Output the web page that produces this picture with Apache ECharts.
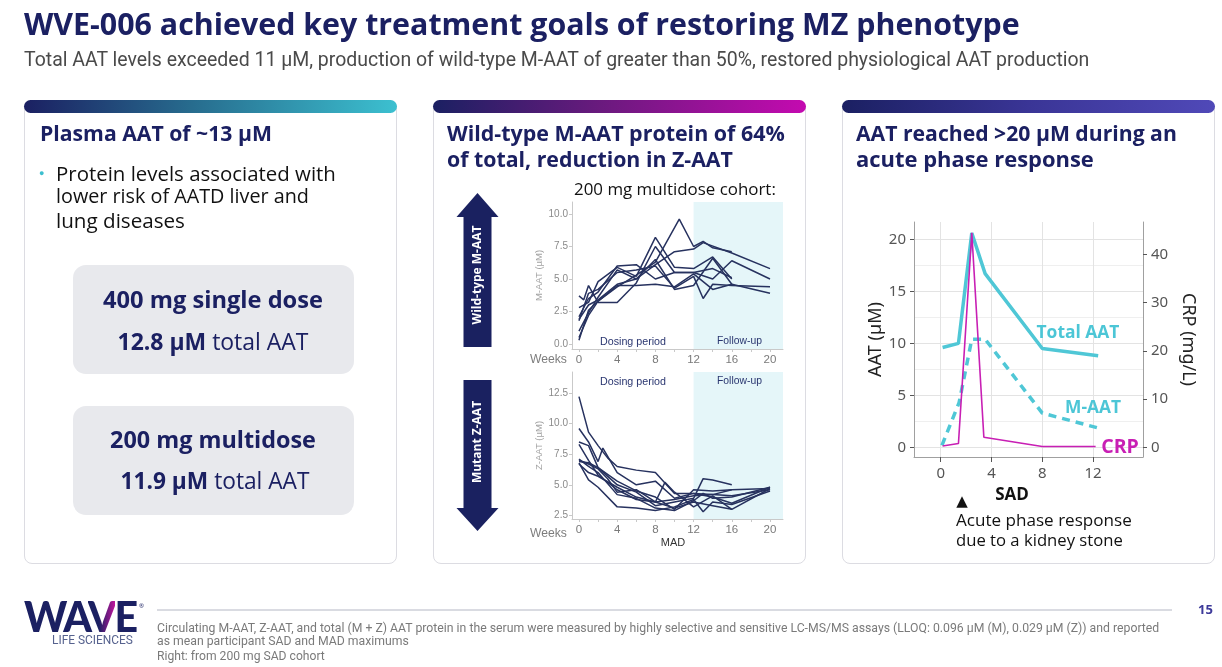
<!DOCTYPE html>
<html><head><meta charset="utf-8">
<script src="https://cdn.jsdelivr.net/npm/echarts@6/dist/echarts.min.js"></script>
<style>
html,body{margin:0;padding:0;background:#fff;width:1222px;height:667px;overflow:hidden;position:relative;font-family:'Open Sans',sans-serif;}
#chart{position:absolute;left:0;top:0;width:1222px;height:667px;z-index:1;}
.layer{position:absolute;left:0;top:0;width:1222px;height:667px;z-index:2;pointer-events:none;}
.t{position:absolute;white-space:nowrap;line-height:1;}
.panel{position:absolute;top:100px;width:373px;height:464px;border:1px solid #dcdce2;border-radius:8px;box-sizing:border-box;z-index:0;}
.bar{position:absolute;left:-1px;top:-1px;right:-1px;height:13px;border-radius:7px;}
.box{position:absolute;left:73px;width:281px;height:109px;background:#e8e9ed;border-radius:13px;z-index:0;}
</style></head><body>
<div class="panel" style="left:24px"><div class="bar" style="background:linear-gradient(90deg,#1b2062,#276c8e 45%,#3cc0d0)"></div></div>
<div class="panel" style="left:433px"><div class="bar" style="background:linear-gradient(90deg,#1b2062,#6a1a7e 45%,#c40ab0)"></div></div>
<div class="panel" style="left:842px"><div class="bar" style="background:linear-gradient(90deg,#1b2062,#3a3596 50%,#5049b8)"></div></div>
<div class="box" style="top:265px"></div>
<div class="box" style="top:406px"></div>
<svg style="position:absolute;left:0;top:0;z-index:0" width="1222" height="667">
  <polygon points="477.5,193 498.5,217 491.5,217 491.5,347 463.5,347 463.5,217 456.5,217" fill="#1a2160"/>
  <polygon points="463.5,380 491.5,380 491.5,508 498.5,508 477.5,531 456.5,508 463.5,508" fill="#1a2160"/>
  <line x1="157" y1="610" x2="1172" y2="610" stroke="#b4b7c4" stroke-width="1"/>
</svg>
<div id="chart"></div>
<div class="layer" id="txt"></div>
<script>
// ---------- DATA ----------
// Middle top: wild-type M-AAT (µM) per participant, [week, value]
const mWeekTicks = [0,2,4,6,8,10,12,14,16,18,20];
const mWeekLabels = [0,4,8,12,16,20];
const mAatTicks = [0,2.5,5,7.5,10];
const zAatTicks = [2.5,5,7.5,10,12.5];
const mS1 = [[0,0.5],[1,2.2],[2,3.3],[4,4.4],[6,5.3],[8,6.3],[10.5,9.6],[12,7.5],[13,7.9],[14,7.4],[16,7.1]];
const mS2 = [[0,1.9],[1,3.0],[2,3.4],[4,4.6],[6,5.0],[8,6.1],[10,7.1],[12,7.3],[13,7.8],[16,7.0],[20,5.8]];
const mS3 = [[0,2.8],[1,3.2],[2,4.8],[4,5.9],[6,5.2],[8,8.2],[10,5.9],[12,5.8],[14,6.7],[16,5.0]];
const mS4 = [[0,3.7],[0.5,3.4],[1,4.5],[2,3.2],[4,3.2],[6,4.7],[8,7.5],[10,5.5],[12,5.5],[14,5.8],[16,5.1]];
const mS5 = [[0,1.8],[1,3.9],[2,4.2],[4,5.5],[6,5.7],[8,6.0],[10,4.3],[12,5.2],[13,3.5],[14,4.6],[16,4.5],[20,4.4]];
const mS6 = [[0,0.3],[1,2.6],[2,3.3],[4,4.5],[6,4.5],[8,4.6],[10,4.4],[12,5.4],[14,4.2],[16,4.6],[20,3.9]];
const mS7 = [[0,2.1],[1,3.5],[2,4.0],[4,6.0],[6,6.1],[8,5.0],[10,5.5],[12,5.5],[14,5.0],[16,6.4],[20,5.0]];
const mS8 = [[0,1.0],[1,2.4],[2,3.6],[4,5.7],[6,5.0],[8,6.5],[10,4.2],[12,4.5],[14,6.6],[16,4.6]];
// Middle bottom: mutant Z-AAT (µM)
const zS1 = [[0,12.2],[1,9.3],[2,8.2],[3,7.2],[4,6.5],[6,6.2],[8,6.0],[10,4.3],[12,4.3],[14,4.2],[16,4.1],[20,4.6]];
const zS2 = [[0,9.6],[1,8.5],[2,6.9],[2.5,8.0],[4,6.0],[6,5.0],[8,5.3],[10,3.9],[12,4.3],[14,4.0],[16,3.5],[20,4.8]];
const zS3 = [[0,8.5],[1,8.2],[2,6.4],[4,5.0],[6,4.4],[8,3.3],[10,3.6],[12,3.9],[13,5.5],[14,5.4],[16,5.0]];
const zS4 = [[0,8.3],[1,7.0],[2,5.8],[4,4.6],[6,3.8],[8,3.6],[10,3.1],[12,3.6],[14,3.3],[16,3.0],[20,4.7]];
const zS5 = [[0,7.1],[1,6.5],[2,6.0],[4,4.2],[6,3.9],[8,3.1],[10,2.9],[12,3.7],[13,4.3],[14,3.9],[16,4.0],[20,4.8]];
const zS6 = [[0,6.9],[1,6.8],[2,6.4],[4,5.3],[6,4.5],[8,4.0],[10,3.0],[12,4.6],[14,4.5],[16,4.6],[20,4.7]];
const zS7 = [[0,6.8],[1,5.4],[2,4.8],[4,3.2],[6,3.1],[8,2.9],[10,3.2],[12,3.8],[13,2.8],[14,3.6],[16,3.4],[20,4.5]];
const zS8 = [[0,6.7],[1,6.0],[2,5.7],[4,4.8],[6,4.0],[8,3.6],[10,3.8],[12,4.1],[14,4.2],[16,4.6]];
const zS9 = [[0,7.0],[1,6.7],[2,6.3],[3,5.5],[4,4.4],[6,4.6],[8,3.6],[9,5.2],[10,4.4],[12,3.2],[14,4.1],[16,3.0]];
// Right: 200 mg SAD participant, [week, value]
const sadWeekTicks = [0,4,8,12];
const aatTicks = [0,5,10,15,20];
const aatMinorTicks = [2.5,7.5,12.5,17.5];
const crpTicks = [0,10,20,30,40];
const sadTotalAAT = [[0.15,9.6],[1.4,10.0],[2.45,20.6],[3.5,16.7],[8,9.5],[12.4,8.8]];
const sadMAAT = [[0.1,0.2],[1.45,4.3],[2.45,10.4],[3.5,10.4],[8,3.3],[12.3,1.9]];
const sadCRP = [[0.15,0.3],[1.4,0.8],[2.45,44.5],[3.4,2.1],[8,0.2],[12.2,0.2]];

const mSubjects = [mS1,mS2,mS3,mS4,mS5,mS6,mS7,mS8];
const zSubjects = [zS1,zS2,zS3,zS4,zS5,zS6,zS7,zS8,zS9];

// ---------- CHART ----------
const MID_XMAX = 21.36, MID_XMIN = -0.73;
const axGrey = '#c9c9c9';
function midX(gi){return {type:'value',gridIndex:gi,min:MID_XMIN,max:MID_XMAX,
  axisLine:{show:true,onZero:false,lineStyle:{color:axGrey}},
  axisTick:{show:true,customValues:mWeekTicks,length:3,lineStyle:{color:axGrey}},
  axisLabel:{customValues:mWeekLabels,color:'#7a7a7a',fontSize:11.5,margin:5,fontFamily:'Liberation Sans'},
  splitLine:{show:false}};}
function midY(gi,min,max,vals,name){return {type:'value',gridIndex:gi,min,max,
  axisLine:{show:true,onZero:false,lineStyle:{color:axGrey}},
  axisTick:{show:true,customValues:vals,length:3,lineStyle:{color:axGrey}},
  axisLabel:{customValues:vals,formatter:v=>v.toFixed(1),color:'#8a8a8a',fontSize:10,margin:4,fontFamily:'Liberation Sans'},
  splitLine:{show:false},name,nameLocation:'middle',nameGap:25,
  nameTextStyle:{color:'#a3a3a3',fontSize:9.5,fontFamily:'Liberation Sans'}};}
const series = [];
mSubjects.forEach((d,i)=>{const s={type:'line',xAxisIndex:0,yAxisIndex:0,data:d,symbol:'none',z:3,
  lineStyle:{color:'#27325f',width:1.5}};
  if(i===0) s.markArea={silent:true,itemStyle:{color:'#e5f6f9'},data:[[{xAxis:12},{xAxis:MID_XMAX}]]};
  series.push(s);});
zSubjects.forEach((d,i)=>{const s={type:'line',xAxisIndex:1,yAxisIndex:1,data:d,symbol:'none',z:3,
  lineStyle:{color:'#27325f',width:1.5}};
  if(i===0) s.markArea={silent:true,itemStyle:{color:'#e5f6f9'},data:[[{xAxis:12},{xAxis:MID_XMAX}]]};
  series.push(s);});
series.push({type:'line',xAxisIndex:2,yAxisIndex:2,data:sadTotalAAT,symbol:'none',z:3,lineStyle:{color:'#4fc7d6',width:3.5}});
series.push({type:'line',xAxisIndex:2,yAxisIndex:2,data:sadMAAT,symbol:'none',z:3,lineStyle:{color:'#4fc7d6',width:3.5,type:[8,6]}});
series.push({type:'line',xAxisIndex:2,yAxisIndex:3,data:sadCRP,symbol:'none',z:4,lineStyle:{color:'#c81fb4',width:1.6}});

const sadGrey = '#a0a0a0', sadTxt = '#555';
const option = {
  animation:false,
  grid:[
    {left:572,top:202,width:211,height:147},
    {left:572,top:372,width:211,height:147},
    {left:914,top:222,width:229,height:235}
  ],
  xAxis:[midX(0),midX(1),
    {type:'value',gridIndex:2,min:-2.1,max:15.93,
     axisLine:{show:true,onZero:false,lineStyle:{color:sadGrey}},
     axisTick:{show:true,customValues:sadWeekTicks,length:5,lineStyle:{color:sadTxt}},
     axisLabel:{customValues:sadWeekTicks,color:sadTxt,fontSize:15,margin:9,fontFamily:'Noto Sans'},
     splitLine:{show:true,lineStyle:{color:'#e3e3e3'}}}],
  yAxis:[midY(0,-0.38,10.92,mAatTicks,'M-AAT (µM)'),midY(1,2.21,14.21,zAatTicks,'Z-AAT (µM)'),
    {type:'value',gridIndex:2,min:-0.92,max:21.66,position:'left',
     axisLine:{show:true,onZero:false,lineStyle:{color:sadGrey}},
     axisTick:{show:true,customValues:aatTicks,length:4,lineStyle:{color:sadTxt}},
     axisLabel:{customValues:aatTicks,color:sadTxt,fontSize:15,margin:8,fontFamily:'Noto Sans'},
     splitLine:{show:true,lineStyle:{color:'#e3e3e3'}},
     name:'AAT (µM)',nameLocation:'middle',nameGap:28,nameTextStyle:{color:'#222',fontSize:18,fontFamily:'Noto Sans'}},
    {type:'value',gridIndex:2,min:-1.99,max:46.74,position:'right',
     axisLine:{show:true,onZero:false,lineStyle:{color:sadGrey}},
     axisTick:{show:true,customValues:crpTicks,length:4,lineStyle:{color:sadTxt}},
     axisLabel:{customValues:crpTicks,color:sadTxt,fontSize:15,margin:8,fontFamily:'Noto Sans'},
     splitLine:{show:false},
     name:'CRP (mg/L)',nameLocation:'middle',nameRotate:-90,nameGap:36,nameTextStyle:{color:'#222',fontSize:18,fontFamily:'Noto Sans'}},
    {type:'value',gridIndex:2,min:-0.92,max:21.66,position:'left',
     axisLine:{show:false},axisTick:{show:false,customValues:aatMinorTicks},
     axisLabel:{show:false,customValues:aatMinorTicks},
     splitLine:{show:true,lineStyle:{color:'#efefef'}}}
  ],
  series
};
const chart = echarts.init(document.getElementById('chart'),null,{renderer:'canvas'});
chart.setOption(option);

// ---------- TEXT ----------
const L = document.getElementById('txt');
const NAVY = '#1b2062';
function T(html,x,cy,size,o){o=o||{};
  const d=document.createElement('div');d.className='t';d.innerHTML=html;
  d.style.fontSize=size+'px';d.style.fontFamily=o.f||"'Open Sans'";d.style.fontWeight=o.w||400;
  d.style.color=o.c||'#111';if(o.ls)d.style.letterSpacing=o.ls+'px';
  L.appendChild(d);
  if(o.width){let s=o.width/d.getBoundingClientRect().width;s=Math.max(0.85,Math.min(1.15,s));size*=s;d.style.fontSize=size+'px';}
  const r=d.getBoundingClientRect();
  let left=x; if(o.a==='c')left=x-r.width/2; if(o.a==='r')left=x-r.width;
  d.style.left=left+'px'; d.style.top=(cy-r.height/2)+'px';
  if(o.rot){d.style.left=(x-r.width/2)+'px';d.style.transform='rotate('+o.rot+'deg)';}
  return d;}
T('WVE-006 achieved key treatment goals of restoring MZ phenotype',24,24,30,{w:700,c:NAVY,width:996});
T('Total AAT levels exceeded 11 µM, production of wild-type M-AAT of greater than 50%, restored physiological AAT production',24,60,17,{f:'Roboto',c:'#4a4a4a',width:1066});
// panel 1
T('Plasma AAT of ~13 µM',40,133,20,{w:700,c:NAVY,width:232});
T('●',39,172,9,{c:'#3cbfcf'});
T('Protein levels associated with',56,173,19,{width:280});
T('lower risk of AATD liver and',56,196,19,{width:253});
T('lung diseases',56,220,19,{width:129});
T('400 mg single dose',213,300,22,{w:700,c:NAVY,a:'c',width:220});
T('<b>12.8 µM</b> total AAT',213,341,22,{c:NAVY,a:'c',width:191});
T('200 mg multidose',213,440,22,{w:700,c:NAVY,a:'c',width:206});
T('<b>11.9 µM</b> total AAT',215,481,22,{c:NAVY,a:'c',width:189});
// panel 2
T('Wild-type M-AAT protein of 64%',447,133,20,{w:700,c:NAVY,width:338});
T('of total, reduction in Z-AAT',447,159,20,{w:700,c:NAVY,width:286});
T('200 mg multidose cohort:',574,189,16,{width:202});
T('Wild-type M-AAT',477.5,275,12,{w:700,c:'#fff',rot:-90});
T('Mutant Z-AAT',477.5,442,12,{w:700,c:'#fff',rot:-90});
T('Dosing period',600,341,10.5,{f:'Liberation Sans',c:'#2a3670',width:66});
T('Follow-up',717,341,10.5,{f:'Liberation Sans',c:'#2a3670',width:45});
T('Dosing period',600,381,10.5,{f:'Liberation Sans',c:'#2a3670',width:66});
T('Follow-up',717,381,10.5,{f:'Liberation Sans',c:'#2a3670',width:45});
T('Weeks',530,359,12.5,{f:'Liberation Sans',c:'#7d7d7d',width:37});
T('Weeks',530,533,12.5,{f:'Liberation Sans',c:'#7d7d7d',width:37});
T('MAD',673,542,11,{f:'Liberation Sans',c:'#333',a:'c'});
// panel 3
T('AAT reached &gt;20 µM during an',856,133,20,{w:700,c:NAVY,width:321});
T('acute phase response',856,159,20,{w:700,c:NAVY,width:238});
T('Total AAT',1078,332,17,{w:700,c:'#4cc6d6',a:'c',width:83});
T('M-AAT',1093,407,17,{w:700,c:'#4cc6d6',a:'c',width:56});
T('CRP',1120,446,17,{w:700,c:'#c81fb4',a:'c',width:38});
T('SAD',1012,493,17,{w:700,c:'#111',a:'c'});
T('▲',962,501,15,{f:'DejaVu Sans',c:'#111',a:'c'});
T('Acute phase response',956,520,16,{width:176});
T('due to a kidney stone',956,540,16,{width:167});
// footer
T('<span style="color:#1b2062">WA</span><span style="background:linear-gradient(90deg,#1b2062 40%,#c0169e);-webkit-background-clip:text;background-clip:text;color:transparent">V</span><span style="color:#1b2062">E</span>',24,617,36,{f:'Lato',w:900,ls:-2,width:111});
T('®',139,606,6,{c:'#1b2062'});
T('LIFE SCIENCES',52,641,10.5,{f:'Roboto',c:'#56628e',width:81});
T('15',1198,609,13,{w:700,c:'#3d3a9a'});
T('Circulating M-AAT, Z-AAT, and total (M + Z) AAT protein in the serum were measured by highly selective and sensitive LC-MS/MS assays (LLOQ: 0.096 µM (M), 0.029 µM (Z)) and reported',157,628,11.5,{f:'Roboto',c:'#7a7a7a',width:1003});
T('as mean participant SAD and MAD maximums',157,641,11.5,{f:'Roboto',c:'#7a7a7a',width:252});
T('Right: from 200 mg SAD cohort',157,656,11.5,{f:'Roboto',c:'#7a7a7a',width:168});
</script>
</body></html>
